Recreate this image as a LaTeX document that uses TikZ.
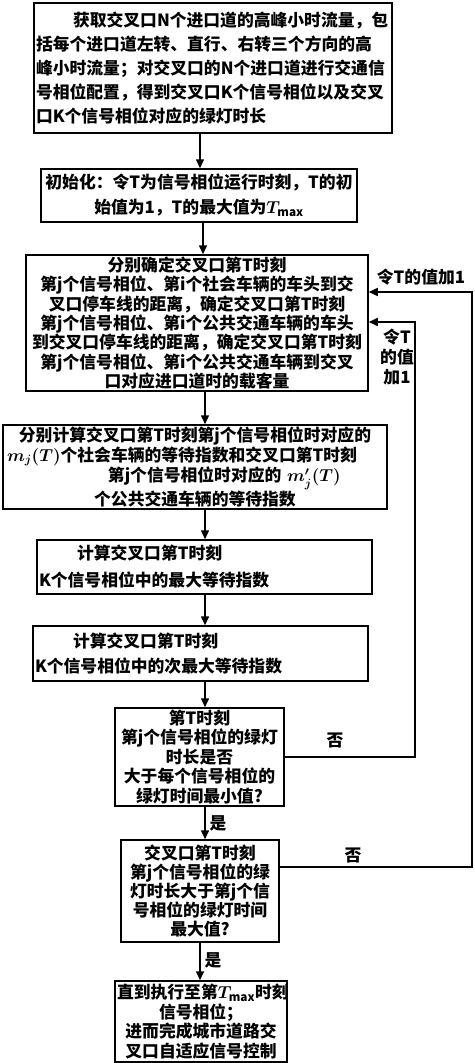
\documentclass[tikz,border=0pt]{standalone}
\usepackage{fontspec}
\setmainfont{Noto Sans CJK SC}
\usetikzlibrary{arrows.meta}
\tikzset{
  box/.style={draw, line width=1.5pt, inner xsep=2pt, inner ysep=0pt, anchor=center},
  arr/.style={line width=1.5pt, -{Triangle[length=9pt,width=8pt]}},
  lbl/.style={inner sep=0pt, align=center},
}
\newcommand{\fs}[1]{\fontsize{16.8}{#1}\selectfont\bfseries\boldmath}
\begin{document}
\begin{tikzpicture}[x=1pt,y=-1pt]
\useasboundingbox (0,0) rectangle (474,1063);
\node[box, text width=354pt, minimum height=130pt, align=left, font=\fs{24}] (b1) at (213,68)
 {\hspace*{37pt}获取交叉口N个进口道的高峰小时流量，包\\
  括每个进口道左转、直行、右转三个方向的高\\
  峰小时流量；对交叉口的N个进口道进行交通信\\
  号相位配置，得到交叉口K个信号相位以及交叉\\
  口K个信号相位对应的绿灯时长};
\node[box, text width=312pt, minimum height=53pt, align=center, font=\fs{25}] (b2) at (199,195.5)
 {初始化：令T为信号相位运行时刻，T的初\\始值为1，T的最大值为$T_{\max}$};
\node[box, text width=338pt, minimum height=136pt, align=center, font=\fs{19.3}] (b3) at (197,323)
 {分别确定交叉口第T时刻\\
  第j个信号相位、第i个社会车辆的车头到交\\
  叉口停车线的距离，确定交叉口第T时刻\\
  第j个信号相位、第i个公共交通车辆的车头\\
  到交叉口停车线的距离，确定交叉口第T时刻\\
  第j个信号相位、第i个公共交通车辆到交叉\\
  口对应进口道时的载客量};
\node[box, text width=380pt, minimum height=84pt, align=center, font=\fs{19.5}] (b4) at (195,467)
 {分别计算交叉口第T时刻第j个信号相位时对应的\\
  \makebox[376pt][l]{$m_j(T)$个社会车辆的等待指数和交叉口第T时刻}\\
  \makebox[376pt][l]{\hspace*{101pt}第j个信号相位时对应的 $m'_j(T)$}\\
  个公共交通车辆的等待指数};
\node[box, text width=331pt, minimum height=54pt, align=left, font=\fs{27}] (b5) at (204.5,567)
 {\hspace*{38pt}计算交叉口第T时刻\\K个信号相位中的最大等待指数};
\node[box, text width=331pt, minimum height=55pt, align=left, font=\fs{25}] (b6) at (200.5,653.5)
 {\hspace*{38pt}计算交叉口第T时刻\\K个信号相位中的次最大等待指数};
\node[box, text width=165pt, minimum height=98pt, align=center, font=\fs{19.5}] (b7) at (199.5,757)
 {第T时刻\\第j个信号相位的绿灯\\时长是否\\大于每个信号相位的\\绿灯时间最小值?};
\node[box, text width=154pt, minimum height=102pt, align=center, font=\fs{19.2}] (b8) at (200,891)
 {交叉口第T时刻\\第j个信号相位的绿\\灯时长大于第j个信\\号相位的绿灯时间\\最大值?};
\node[box, text width=168pt, minimum height=81pt, align=center, font=\fs{19.5}] (b9) at (201,1021.5)
 {直到执行至第$T_{\max}$时刻\\信号相位；\\进而完成城市道路交\\叉口自适应信号控制};
% columns for vertical arrows
\coordinate (a1) at (200,0);
\coordinate (a2) at (203,0);
\coordinate (a3) at (205,0);
\draw[arr] (b1.south -| a1) -- (b2.north -| a1);
\draw[arr] (b2.south -| a2) -- (b3.north -| a2);
\draw[arr] (b3.south -| a3) -- (b4.north -| a3);
\draw[arr] (b4.south -| a3) -- (b5.north -| a3);
\draw[arr] (b5.south -| a3) -- (b6.north -| a3);
\draw[arr] (b6.south -| a3) -- (b7.north -| a3);
\draw[arr] (b7.south -| a3) -- (b8.north -| a3);
\draw[arr] (b8.south -| a1) -- (b9.north -| a1);
% feedback loops
\coordinate (p1) at (415,322);
\coordinate (p2) at (472,292);
\coordinate (q2) at (0,867);
\draw[arr] (b7.east) -| (p1) -- (b3.east |- p1);
\draw[arr] (b8.east |- q2) -| (p2) -- (b3.east |- p2);
% labels
\node[lbl, font=\fs{20}] (l1) at (421,277) {令T的值加1};
\node[lbl, font=\fs{20}] (l2) at (397,357) {令T\\的值\\加1};
\node[lbl, font=\fs{20}] (n1) at (335,740) {否};
\node[lbl, font=\fs{20}] (n2) at (353,855) {否};
\node[lbl, font=\fs{20}] (y1) at (218,823) {是};
\node[lbl, font=\fs{20}] (y2) at (213,960) {是};
\end{tikzpicture}
\end{document}
